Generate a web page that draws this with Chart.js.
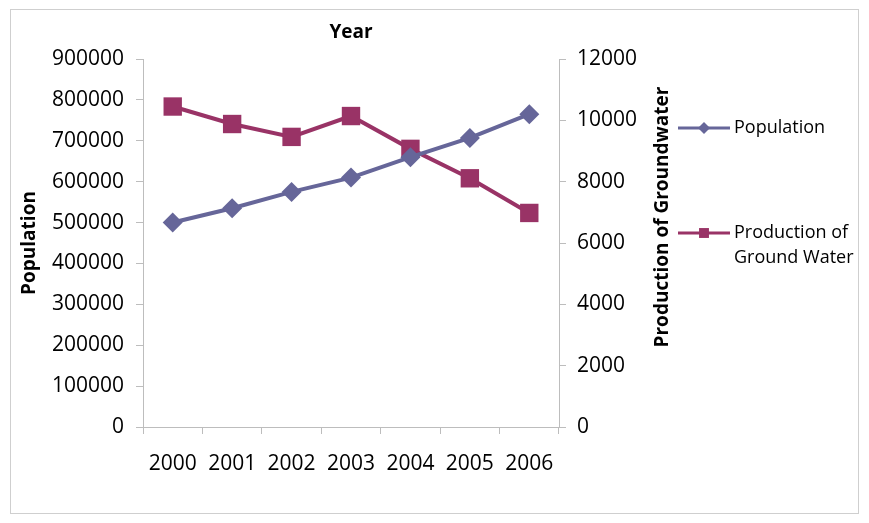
<!DOCTYPE html>
<html>
<head>
<meta charset="utf-8">
<script src="https://cdn.jsdelivr.net/npm/chart.js@4.4.1/dist/chart.umd.min.js"></script>
<style>
    html, body { margin: 0; padding: 0; background: #fff; }
    #wrap { width: 869px; height: 523px; position: relative; }
</style>
</head>
<body>
<div id="wrap"><canvas id="yearChart"></canvas></div>
<script>
const years = ['2000', '2001', '2002', '2003', '2004', '2005', '2006'];
const population = [500000, 535000, 575000, 610000, 660000, 707000, 765000];
const groundwater = [10450, 9880, 9460, 10140, 9070, 8110, 6980];

const seriesNames = ['Population', 'Production of Ground Water'];
const legendLines = [['Population'], ['Production of', 'Ground Water']];
const chartTitle = 'Year';
const leftTitle = 'Population';
const rightTitle = 'Production of Groundwater';

const FONT = "'Open Sans', 'DejaVu Sans', sans-serif";
const AXIS_GREY = '#bdbdbd';

// frame, title, rotated right title and the legend are painted by hand
const extras = {
    id: 'extras',
    beforeDraw(chart) {
        const ctx = chart.ctx;
        ctx.save();
        ctx.strokeStyle = '#cfcfcf';
        ctx.lineWidth = 1;
        ctx.strokeRect(10.5, 9.5, 848, 504);
        ctx.restore();
    },
    afterDraw(chart) {
        const ctx = chart.ctx;
        const area = chart.chartArea;
        ctx.save();
        ctx.fillStyle = '#000';
        ctx.textAlign = 'center';
        ctx.textBaseline = 'middle';
        ctx.font = 'bold 19px ' + FONT;
        ctx.fillText(chartTitle, (area.left + area.right) / 2, 33);

        // right axis title reads bottom to top, like the left one
        ctx.translate(663, 217);
        ctx.rotate(-Math.PI / 2);
        ctx.fillText(rightTitle, 0, 0);
        ctx.restore();

        // legend
        const rows = [128, 233];
        chart.data.datasets.forEach((ds, i) => {
            const y = rows[i];
            ctx.save();
            ctx.strokeStyle = ds.borderColor;
            ctx.fillStyle = ds.borderColor;
            ctx.lineWidth = 3;
            ctx.beginPath();
            ctx.moveTo(678, y);
            ctx.lineTo(730, y);
            ctx.stroke();
            Chart.helpers.drawPoint(ctx, {
                pointStyle: ds.pointStyle,
                radius: i === 0 ? 6 : 7,
                rotation: 0,
                borderWidth: 0
            }, 704, y);
            ctx.fillStyle = '#000';
            ctx.font = '18px ' + FONT;
            ctx.textAlign = 'left';
            ctx.textBaseline = 'middle';
            legendLines[i].forEach((line, k) => ctx.fillText(line, 734, y + k * 25));
            ctx.restore();
        });
    }
};

document.addEventListener('DOMContentLoaded', () => {
    const ctx = document.getElementById('yearChart').getContext('2d');

    new Chart(ctx, {
        type: 'line',
        data: {
            labels: years,
            datasets: [{
                label: seriesNames[0],
                data: population,
                yAxisID: 'y',
                borderColor: '#666699',
                backgroundColor: '#666699',
                borderWidth: 4,
                pointStyle: 'rectRot',
                pointRadius: 10,
                pointHoverRadius: 10,
                pointBorderWidth: 0,
                tension: 0
            }, {
                label: seriesNames[1],
                data: groundwater,
                yAxisID: 'y1',
                borderColor: '#993366',
                backgroundColor: '#993366',
                borderWidth: 4,
                pointStyle: 'rect',
                pointRadius: 13,
                pointHoverRadius: 13,
                pointBorderWidth: 0,
                tension: 0
            }]
        },
        options: {
            responsive: true,
            maintainAspectRatio: false,
            animation: false,
            layout: { padding: { top: 59, right: 210, bottom: 0, left: 0 } },
            plugins: {
                legend: { display: false },
                title: { display: false },
                tooltip: { enabled: false }
            },
            scales: {
                x: {
                    offset: true,
                    grid: { drawOnChartArea: false, offset: true, tickLength: 7, color: AXIS_GREY },
                    border: { color: AXIS_GREY },
                    ticks: {
                        autoSkip: false, maxRotation: 0, padding: 17,
                        color: '#000', font: { family: FONT, size: 21 }
                    },
                    afterFit: (scale) => { scale.height = 96; }
                },
                y: {
                    position: 'left',
                    min: 0, max: 900000,
                    grid: { drawOnChartArea: false, tickLength: 7, color: AXIS_GREY },
                    border: { color: AXIS_GREY },
                    ticks: {
                        stepSize: 100000, padding: 12,
                        color: '#000', font: { family: FONT, size: 21 },
                        callback: (v) => String(v)
                    },
                    title: {
                        display: true, text: leftTitle, color: '#000',
                        font: { family: FONT, size: 19, weight: 'bold' },
                        padding: { top: 18, bottom: 0 }
                    },
                    afterFit: (scale) => { scale.width = 143; }
                },
                y1: {
                    position: 'right',
                    min: 0, max: 12000,
                    grid: { drawOnChartArea: false, tickLength: 7, color: AXIS_GREY },
                    border: { color: AXIS_GREY },
                    ticks: {
                        stepSize: 2000, padding: 11,
                        color: '#000', font: { family: FONT, size: 21 },
                        callback: (v) => String(v)
                    },
                    afterFit: (scale) => { scale.width = 100; }
                }
            }
        },
        plugins: [extras]
    });
});
</script>
</body>
</html>
